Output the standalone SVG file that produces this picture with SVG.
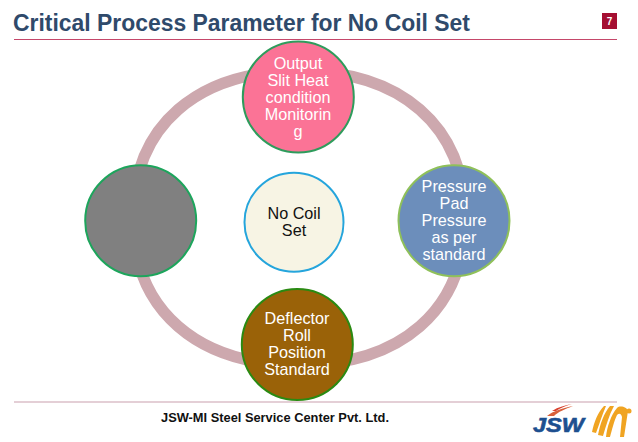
<svg xmlns="http://www.w3.org/2000/svg" width="638" height="442" viewBox="0 0 638 442">
<style>
.t{font-family:"Liberation Sans",Arial,sans-serif;font-size:16.2px;text-anchor:middle}
.w{fill:#fff}
.k{fill:#111}
.c{stroke-width:2}
</style>
<rect width="638" height="442" fill="#fff"/>
<g id="title">
<text x="13" y="31" font-family="'Liberation Sans',Arial,sans-serif" font-weight="bold" font-size="23.6px" fill="#2f4a6b" textLength="457" lengthAdjust="spacingAndGlyphs">Critical Process Parameter for No Coil Set</text>
<line x1="14" y1="39.5" x2="617" y2="39.5" stroke="#c5476a" stroke-width="1"/>
</g>
<g id="badge">
<rect x="602" y="13" width="15" height="16" fill="#a50f32"/>
<text x="609.5" y="24.5" font-family="'Liberation Sans',Arial,sans-serif" font-weight="bold" font-size="10px" fill="#fff" text-anchor="middle">7</text>
</g>
<g id="connectors"><path d="M299 71 C400 71 465 125 465 218 C465 311 400 365 299 365 C198 365 133 311 133 218 C133 125 198 71 299 71 Z" fill="none" stroke="#cda8ae" stroke-width="11.5"/></g>
<g id="node-top">
<circle class="c" cx="298.3" cy="97" r="55.5" fill="#fb7396" stroke="#2e9c5c"/>
<text class="t w" x="298" y="68.5">Output</text>
<text class="t w" x="298" y="85.5">Slit Heat</text>
<text class="t w" x="298" y="102.5">condition</text>
<text class="t w" x="298" y="119.5">Monitorin</text>
<text class="t w" x="298" y="136.5">g</text>
</g>
<g id="node-right">
<circle class="c" cx="454" cy="220.7" r="55.5" fill="#6c8ebb" stroke="#8fc05a"/>
<text class="t w" x="454" y="192">Pressure</text>
<text class="t w" x="454" y="209">Pad</text>
<text class="t w" x="454" y="225.5">Pressure</text>
<text class="t w" x="454" y="242.5">as per</text>
<text class="t w" x="454" y="259.5">standard</text>
</g>
<g id="node-bottom">
<circle class="c" cx="297.3" cy="344.5" r="55.5" fill="#9a6208" stroke="#2a8a12"/>
<text class="t w" x="297" y="324">Deflector</text>
<text class="t w" x="297" y="341">Roll</text>
<text class="t w" x="297" y="358">Position</text>
<text class="t w" x="297" y="375">Standard</text>
</g>
<g id="node-left">
<circle class="c" cx="140.7" cy="220.7" r="55.5" fill="#808080" stroke="#1da55c"/>
</g>
<g id="node-center">
<circle class="c" cx="294" cy="222.3" r="49.5" fill="#f7f4e4" stroke="#25a5dc"/>
<text class="t k" x="294" y="219">No Coil</text>
<text class="t k" x="294" y="236">Set</text>
</g>
<g id="footer">
<line x1="14" y1="402" x2="617" y2="402" stroke="#c99fae" stroke-width="1.2"/>
<text x="161" y="422" font-family="'Liberation Sans',Arial,sans-serif" font-weight="bold" font-size="12.6px" fill="#111" textLength="228" lengthAdjust="spacingAndGlyphs">JSW-MI Steel Service Center Pvt. Ltd.</text>
</g>
<g id="logo">
<path d="M547 416 C553 411 563 408 573 406 C565 409 558 412 554 416 Z" fill="#d8603a"/>
<path d="M552 411 C558 407 566 405 572 404 C565 406 560 408 556 411 Z" fill="#d8402e"/>
<text x="533" y="432" font-family="'Liberation Sans',Arial,sans-serif" font-weight="bold" font-style="italic" font-size="20px" fill="#1d4f8f" textLength="51" lengthAdjust="spacingAndGlyphs" stroke="#1d4f8f" stroke-width=".6">JSW</text>
<g fill="#f0a422">
<path d="M592 432 C594 422 598 412 604 406 L606 406 C602 415 599 425 596 433 Z"/>
<path d="M598 435 C600 424 604 413 610 406 L614 406 C609 415 606 426 603 436 Z"/>
<path d="M606 437 C607 427 611 415 617 408 C620 405 627 407 628 411 L624 437 L620 437 L622 417 C621 413 619 413 617 415 C614 421 612 430 610 437 Z"/>
<circle cx="629" cy="411" r="2.5"/>
</g>
</g>
</svg>
